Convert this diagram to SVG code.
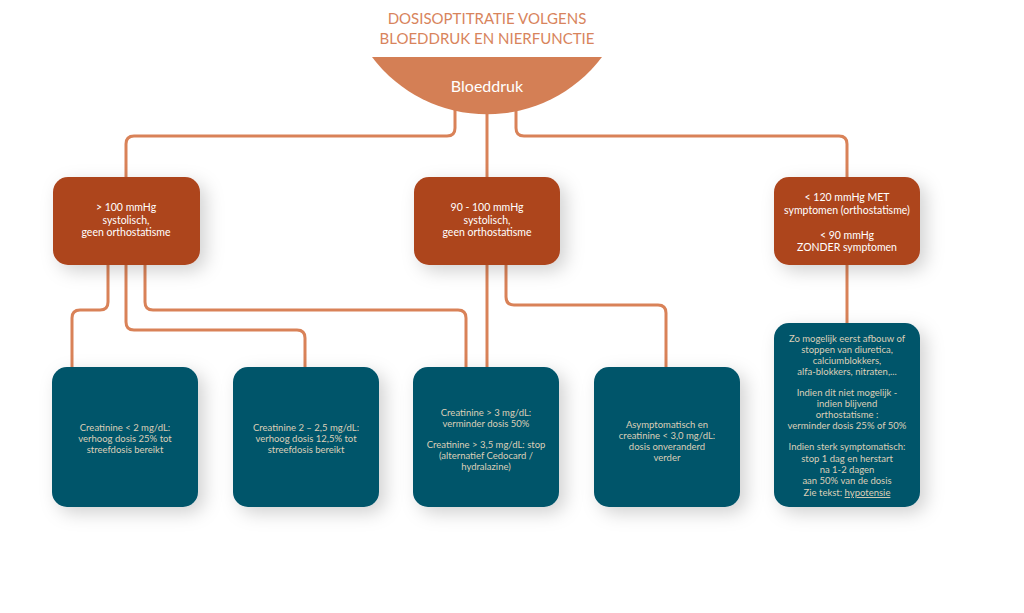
<svg xmlns="http://www.w3.org/2000/svg" width="1024" height="613" viewBox="0 0 1024 613">
<defs>
<filter id="sh" x="-40%" y="-40%" width="190%" height="190%">
<feDropShadow dx="6" dy="6" stdDeviation="9" flood-color="#000" flood-opacity="0.18"/>
</filter>
<style>
.title{font-family:Lato,"Open Sans",sans-serif;font-size:15px;fill:#d8845c;text-anchor:middle}
.top{fill:#d47f55}
.on{fill:#ad441d;filter:url(#sh)}
.tn{fill:#02546a;filter:url(#sh)}
.ot{font-family:Lato,"Open Sans",sans-serif;font-size:10.5px;fill:#ffffff;text-anchor:middle}
.tt{font-family:Lato,"Open Sans",sans-serif;font-size:9.5px;fill:#dccfb8;text-anchor:middle}
.c{fill:none;stroke:#d98258;stroke-width:3;stroke-linejoin:round}
</style>
</defs>
<rect width="1024" height="613" fill="#ffffff"/>
<text class="title" x="487" y="24">DOSISOPTITRATIE VOLGENS</text>
<text class="title" x="487" y="44">BLOEDDRUK EN NIERFUNCTIE</text>
<g id="connectors">
<path class="c" d="M455,110 V128 Q455,136 447,136 H134 Q126,136 126,144 V178"/>
<path class="c" d="M487,112 V178"/>
<path class="c" d="M516,110 V128 Q516,136 524,136 H839 Q847,136 847,144 V178"/>
<path class="c" d="M108,264 V302 Q108,310 100,310 H80 Q72,310 72,318 V368"/>
<path class="c" d="M126,264 V322 Q126,330 134,330 H297 Q305,330 305,338 V368"/>
<path class="c" d="M145,264 V302 Q145,310 153,310 H458 Q466,310 466,318 V368"/>
<path class="c" d="M487,264 V368"/>
<path class="c" d="M506,264 V297 Q506,305 514,305 H658 Q666,305 666,313 V368"/>
<path class="c" d="M847,264 V324"/>
</g>
<g id="root">
<path class="top" d="M372,57 A144,144 0 0 0 602,57 Z"/>
<text x="487" y="92" style="font-family:Lato,'Open Sans',sans-serif;font-size:16px;fill:#ffffff;text-anchor:middle">Bloeddruk</text>
</g>
<g id="n1">
<rect class="on" x="53" y="177" width="147" height="88" rx="15"/>
<text class="ot"><tspan x="126" y="211">&gt; 100 mmHg</tspan><tspan x="126" y="224">systolisch,</tspan><tspan x="126" y="236">geen orthostatisme</tspan></text>
</g>
<g id="n2">
<rect class="on" x="414" y="177" width="146" height="88" rx="15"/>
<text class="ot"><tspan x="487" y="211">90 - 100 mmHg</tspan><tspan x="487" y="224">systolisch,</tspan><tspan x="487" y="236">geen orthostatisme</tspan></text>
</g>
<g id="n3">
<rect class="on" x="774" y="177" width="146" height="88" rx="15"/>
<text class="ot"><tspan x="847" y="201">&lt; 120 mmHg MET</tspan><tspan x="847" y="214">symptomen (orthostatisme)</tspan><tspan x="847" y="239">&lt; 90 mmHg</tspan><tspan x="847" y="251">ZONDER symptomen</tspan></text>
</g>
<g id="a">
<rect class="tn" x="52" y="367" width="146" height="140" rx="15"/>
<text class="tt"><tspan x="125" y="431">Creatinine &lt; 2 mg/dL:</tspan><tspan x="125" y="442">verhoog dosis 25% tot</tspan><tspan x="125" y="453">streefdosis bereikt</tspan></text>
</g>
<g id="b">
<rect class="tn" x="233" y="367" width="146" height="140" rx="15"/>
<text class="tt"><tspan x="306" y="431">Creatinine 2 – 2,5 mg/dL:</tspan><tspan x="306" y="442">verhoog dosis 12,5% tot</tspan><tspan x="306" y="453">streefdosis bereikt</tspan></text>
</g>
<g id="cc">
<rect class="tn" x="413" y="367" width="146" height="140" rx="15"/>
<text class="tt"><tspan x="486" y="416">Creatinine &gt; 3 mg/dL:</tspan><tspan x="486" y="427">verminder dosis 50%</tspan><tspan x="486" y="448">Creatinine &gt; 3,5 mg/dL: stop</tspan><tspan x="486" y="459">(alternatief Cedocard /</tspan><tspan x="486" y="470">hydralazine)</tspan></text>
</g>
<g id="d">
<rect class="tn" x="594" y="367" width="146" height="140" rx="15"/>
<text class="tt"><tspan x="667" y="428">Asymptomatisch en</tspan><tspan x="667" y="439">creatinine &lt; 3,0 mg/dL:</tspan><tspan x="667" y="450">dosis onveranderd</tspan><tspan x="667" y="461">verder</tspan></text>
</g>
<g id="e">
<rect class="tn" x="774" y="323" width="146" height="184" rx="15"/>
<text class="tt"><tspan x="847" y="342">Zo mogelijk eerst afbouw of</tspan><tspan x="847" y="353">stoppen van diuretica,</tspan><tspan x="847" y="364">calciumblokkers,</tspan><tspan x="847" y="375">alfa-blokkers, nitraten,...</tspan><tspan x="847" y="396">Indien dit niet mogelijk -</tspan><tspan x="847" y="407">indien blijvend</tspan><tspan x="847" y="418">orthostatisme :</tspan><tspan x="847" y="429">verminder dosis 25% of 50%</tspan><tspan x="847" y="450">Indien sterk symptomatisch:</tspan><tspan x="847" y="462">stop 1 dag en herstart</tspan><tspan x="847" y="473">na 1-2 dagen</tspan><tspan x="847" y="484">aan 50% van de dosis</tspan><tspan x="847" y="496">Zie tekst: <tspan text-decoration="underline">hypotensie</tspan></tspan></text>
</g>
</svg>
